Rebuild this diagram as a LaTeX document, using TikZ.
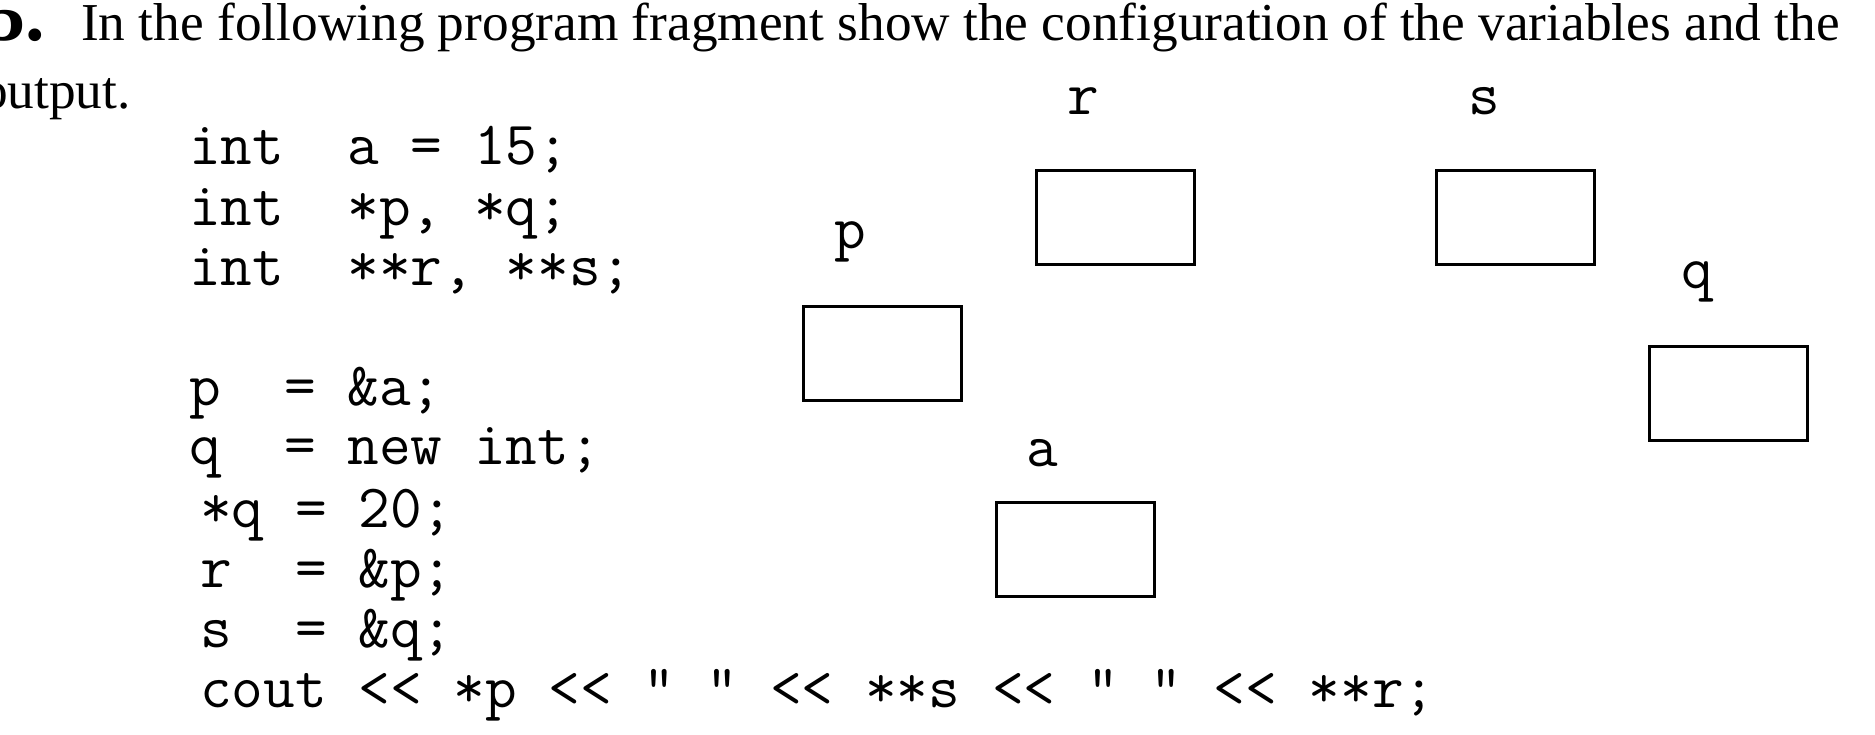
\documentclass[tikz,border=0pt]{standalone}
\usepackage{fontspec}
\setmainfont{Liberation Serif}

\tikzset{
  varbox/.style={draw, line width=3pt, inner sep=0pt, minimum width=158pt, minimum height=94pt},
  varname/.style={font=\fontsize{61.5}{66}\selectfont\ttfamily, anchor=base, inner sep=0pt},
  codeline/.style={font=\fontsize{61.5}{66}\selectfont\ttfamily, anchor=base west, inner sep=0pt},
  question/.style={font=\fontsize{53.3}{60}\selectfont, anchor=base west, inner sep=0pt}
}

\begin{document}
\begin{tikzpicture}[x=1pt, y=-1pt]
  \useasboundingbox (0,0) rectangle (1875,734);
  % The question, cut off at the left edge
  \node[question, anchor=base east, font=\fontsize{78}{80}\selectfont\bfseries] (qnum) at (45,40) {5.};
  \node[question] (qline1) at (81,40) {In the following program fragment show the configuration of the variables and the};
  \node[question] (qline2) at (-19,108) {output.};
  % The program fragment
  \foreach \y/\txt [count=\i] in {164/{int\ \ a = 15;}, 225/{int\ \ *p, *q;}, 285/{int\ \ **r, **s;},
                                  405/{p\ \ = \&a;}, 464/{q\ \ = new int;}} {
    \node[codeline] (codeA\i) at (189,\y) {\txt};
  }
  \foreach \y/\txt [count=\i] in {527/{*q = 20;}, 587/{r\ \ = \&p;}, 647/{s\ \ = \&q;},
                                  707/{cout << *p << " " << **s << " " << **r;}} {
    \node[codeline] (codeB\i) at (200,\y) {\txt};
  }
  % The variables
  \node[varbox] (boxp) at (882.5,353.5) {};
  \node[varbox] (boxr) at (1115.5,217) {};
  \node[varbox] (boxs) at (1515.5,217.5) {};
  \node[varbox] (boxq) at (1728.5,393.5) {};
  \node[varbox] (boxa) at (1075.5,549) {};
  \node[varname] (namep) at (850,248) {p};
  \node[varname] (namer) at (1083,114) {r};
  \node[varname] (names) at (1484,114) {s};
  \node[varname] (nameq) at (1697,288) {q};
  \node[varname] (namea) at (1042,466) {a};
\end{tikzpicture}
\end{document}
